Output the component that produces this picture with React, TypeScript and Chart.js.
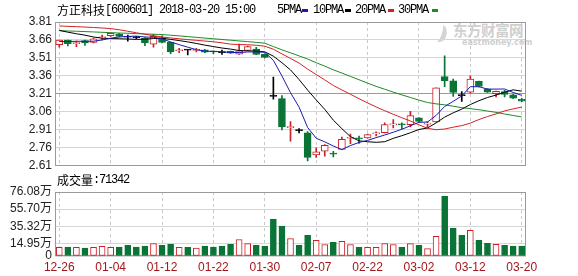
import React, { useEffect, useRef } from 'react';
import { Chart, registerables } from 'chart.js';

Chart.register(...registerables);

// ---------- data ----------
const stockName = '方正科技';
const stockCode = '[600601]';
const stampText = '2018-03-20 15:00';
const volumeCaption = '成交量';
const volumeNow = ':71342';

const dates = ['12-26','12-27','12-28','12-29','01-02','01-03','01-04','01-05','01-08','01-09','01-10','01-11','01-12','01-15','01-16','01-17','01-18','01-19','01-22','01-23','01-24','01-25','01-26','01-29','01-30','01-31','02-01','02-02','02-05','02-06','02-07','02-08','02-09','02-12','02-13','02-14','02-22','02-23','02-26','02-27','02-28','03-01','03-02','03-05','03-06','03-07','03-08','03-09','03-12','03-13','03-14','03-15','03-16','03-19','03-20'];

const openP = [3.62,3.66,3.63,3.655,3.64,3.678,3.695,3.71,3.683,3.68,3.675,3.625,3.68,3.64,3.57,3.575,3.573,3.578,3.563,3.555,3.565,3.542,3.572,3.585,3.54,3.19,3.17,2.928,2.904,2.885,2.70,2.733,2.712,2.746,2.84,2.84,2.843,2.877,2.886,2.952,2.958,2.954,3.01,2.958,2.976,3.355,3.32,3.195,3.225,3.314,3.25,3.211,3.23,3.203,3.165];
const highP = [3.66,3.66,3.65,3.66,3.675,3.70,3.72,3.715,3.70,3.69,3.68,3.707,3.695,3.64,3.59,3.578,3.59,3.58,3.57,3.575,3.567,3.625,3.61,3.598,3.545,3.35,3.195,2.98,2.92,2.895,2.76,2.787,2.73,2.85,2.875,2.857,2.875,2.893,2.968,2.995,2.968,3.065,3.012,2.98,3.26,3.527,3.333,3.23,3.36,3.318,3.255,3.234,3.24,3.206,3.172];
const lowP = [3.60,3.61,3.605,3.615,3.635,3.66,3.69,3.685,3.65,3.67,3.613,3.60,3.635,3.545,3.555,3.535,3.56,3.555,3.545,3.54,3.547,3.54,3.57,3.538,3.51,3.165,2.91,2.815,2.885,2.65,2.68,2.69,2.685,2.745,2.795,2.796,2.84,2.86,2.885,2.926,2.92,2.935,2.978,2.935,2.975,3.27,3.19,3.148,3.217,3.268,3.222,3.184,3.184,3.17,3.145];
const closeP = [3.66,3.63,3.635,3.635,3.67,3.682,3.715,3.69,3.683,3.68,3.635,3.69,3.64,3.56,3.575,3.575,3.578,3.558,3.56,3.555,3.55,3.57,3.605,3.54,3.515,3.19,2.935,2.934,2.904,2.68,2.727,2.78,2.708,2.83,2.845,2.835,2.87,2.881,2.954,2.956,2.952,3.029,2.98,2.962,3.26,3.32,3.223,3.195,3.333,3.272,3.225,3.231,3.205,3.175,3.15];

const ma5 = [3.647,3.647,3.649,3.649,3.65,3.66,3.675,3.685,3.69,3.692,3.685,3.682,3.67,3.644,3.621,3.60,3.579,3.567,3.565,3.561,3.556,3.555,3.56,3.561,3.557,3.49,3.36,3.22,3.10,2.93,2.84,2.81,2.775,2.746,2.779,2.805,2.822,2.845,2.867,2.89,2.915,2.944,2.973,2.975,3.03,3.105,3.148,3.193,3.27,3.27,3.25,3.25,3.251,3.222,3.198];
const ma10 = [3.74,3.725,3.712,3.70,3.685,3.675,3.672,3.67,3.668,3.665,3.666,3.672,3.674,3.665,3.655,3.644,3.631,3.617,3.605,3.593,3.584,3.572,3.569,3.567,3.561,3.525,3.47,3.41,3.33,3.242,3.16,3.081,2.991,2.92,2.853,2.818,2.811,2.806,2.811,2.839,2.861,2.886,2.913,2.926,2.968,3.016,3.052,3.083,3.121,3.153,3.18,3.20,3.223,3.244,3.233];
const ma20 = [3.777,3.774,3.771,3.768,3.764,3.76,3.755,3.745,3.733,3.72,3.708,3.696,3.685,3.677,3.67,3.663,3.657,3.651,3.645,3.636,3.625,3.622,3.62,3.616,3.608,3.583,3.544,3.506,3.467,3.417,3.372,3.327,3.28,3.243,3.207,3.17,3.135,3.101,3.07,3.04,3.011,2.984,2.952,2.923,2.911,2.917,2.932,2.945,2.966,2.996,3.021,3.043,3.068,3.085,3.10];
const ma30 = [3.738,3.735,3.733,3.73,3.727,3.724,3.721,3.718,3.716,3.713,3.71,3.708,3.705,3.70,3.694,3.688,3.682,3.676,3.67,3.664,3.658,3.652,3.646,3.64,3.633,3.605,3.578,3.553,3.527,3.501,3.47,3.442,3.411,3.384,3.356,3.328,3.30,3.273,3.249,3.225,3.202,3.18,3.158,3.138,3.127,3.119,3.107,3.095,3.087,3.078,3.067,3.056,3.042,3.03,3.018];

// volume in 万
const volume = [10.3,10.7,10.3,9.5,10.3,11.5,10.3,10.7,12.7,10.7,11.9,14.7,12.7,13.9,10.3,10.3,9.5,11.9,10.7,11.9,13.9,19.5,14.7,12.7,11.9,44.0,35.7,20.6,12.7,24.6,18.7,13.5,16.3,17.5,13.5,10.3,10.3,10.3,14.7,13.5,10.3,14.7,12.7,8.8,23.4,71.0,33.3,24.6,30.4,18.7,15.1,13.9,12.7,11.9,11.9];

const priceTicks = [3.81,3.66,3.51,3.36,3.21,3.06,2.91,2.76,2.61];
const volTicks = [76.08,55.70,35.32,14.95,0];
const volTickLabels = ['76.08万','55.70万','35.32万','14.95万','0'];

const maNames = ['5PMA','10PMA','20PMA','30PMA'];
const maColors = ['#1a1ab4','#000000','#d42222','#1e8a2a'];

// ---------- styles ----------
const RED = '#cc1f26';
const GREEN = '#0a7436';
const DOJI = '#000000';
const GRID = '#d6d6d6';
const DASH = '#c8c8c8';
const FRAME = '#9a9a9a';
const AXIS_FONT = { family: "'Liberation Sans', 'Noto Sans CJK SC', sans-serif", size: 12 };
const MONO = "'Liberation Mono', 'DejaVu Sans Mono', monospace";
const CJK = "'Noto Sans CJK SC', sans-serif";

const candleColor = (i: number) =>
  closeP[i] > openP[i] ? RED : closeP[i] < openP[i] ? GREEN : DOJI;

const framePlugin = {
  id: 'frame',
  beforeDatasetsDraw(chart: any) {
    const { ctx, chartArea } = chart;
    const l = Math.round(chartArea.left) + 0.5;
    const t = Math.round(chartArea.top) + 0.5;
    const r = Math.round(chartArea.right) - 0.5;
    const b = Math.round(chartArea.bottom) - 0.5;
    ctx.save();
    ctx.strokeStyle = FRAME;
    ctx.lineWidth = 1;
    ctx.strokeRect(l, t, r - l, b - t);
    ctx.restore();
  },
};

export default function App() {
  const priceRef = useRef<HTMLCanvasElement>(null);
  const volRef = useRef<HTMLCanvasElement>(null);

  useEffect(() => {
    const colors = dates.map((_, i) => candleColor(i));
    const xGridColor = (ctx: any) => (ctx.index % 6 === 0 ? DASH : 'rgba(0,0,0,0)');

    const maSets = [ma5, ma10, ma20, ma30].map((d, k) => ({
      type: 'line' as const,
      label: maNames[k],
      data: d,
      borderColor: maColors[k],
      borderWidth: 1,
      pointRadius: 0,
      tension: 0,
      order: 0,
    }));

    const pc = new Chart(priceRef.current as HTMLCanvasElement, {
      type: 'bar',
      data: {
        labels: dates,
        datasets: [
          ...maSets,
          {
            type: 'bar',
            label: 'body',
            data: dates.map((_, i) => [openP[i], closeP[i]]) as any,
            backgroundColor: dates.map((_, i) => (closeP[i] > openP[i] ? '#ffffff' : colors[i])),
            borderColor: colors,
            borderWidth: 1,
            borderSkipped: false,
            barThickness: 7,
            minBarLength: 1,
            grouped: false,
            order: 1,
          } as any,
          {
            type: 'bar',
            label: 'wick',
            data: dates.map((_, i) => [lowP[i], highP[i]]) as any,
            backgroundColor: colors,
            borderWidth: 0,
            barThickness: 1,
            grouped: false,
            order: 2,
          } as any,
        ],
      },
      options: {
        responsive: false,
        animation: false,
        devicePixelRatio: 1,
        events: [],
        layout: { padding: { left: 0, right: 52, top: 22, bottom: 9.5 } },
        plugins: { legend: { display: false }, tooltip: { enabled: false }, title: { display: false } },
        scales: {
          x: {
            type: 'category',
            offset: true,
            grid: { offset: false, color: xGridColor, drawTicks: false, lineWidth: 1 },
            border: { display: false, dash: [3, 3] },
            ticks: { display: false, autoSkip: false },
            afterFit: (s: any) => { s.height = 0; },
          } as any,
          y: {
            min: 2.61,
            max: 3.81,
            afterBuildTicks: (s: any) => { s.ticks = priceTicks.map((v) => ({ value: v })); },
            ticks: {
              autoSkip: false,
              padding: 3,
              color: '#222',
              font: AXIS_FONT,
              callback: (v: any) => Number(v).toFixed(2),
            },
            grid: {
              drawTicks: false,
              color: (ctx: any) => (ctx.tick && Math.abs(ctx.tick.value - 3.21) < 1e-6 ? '#9a9a9a' : GRID),
            },
            border: { display: false },
            afterFit: (s: any) => { s.width = 55; },
          } as any,
        },
      },
      plugins: [framePlugin],
    });

    const vc = new Chart(volRef.current as HTMLCanvasElement, {
      type: 'bar',
      data: {
        labels: dates,
        datasets: [
          {
            label: 'volume',
            data: volume,
            backgroundColor: dates.map((_, i) => (closeP[i] > openP[i] ? '#ffffff' : GREEN)),
            borderColor: dates.map((_, i) => (closeP[i] > openP[i] ? RED : GREEN)),
            borderWidth: 1,
            borderSkipped: false,
            barThickness: 6,
            grouped: false,
          } as any,
        ],
      },
      options: {
        responsive: false,
        animation: false,
        devicePixelRatio: 1,
        events: [],
        layout: { padding: { left: 0, right: 52, top: 12, bottom: 0 } },
        plugins: { legend: { display: false }, tooltip: { enabled: false } },
        scales: {
          x: {
            type: 'category',
            offset: true,
            grid: { offset: false, color: xGridColor, drawTicks: false, lineWidth: 1 },
            border: { display: false, dash: [3, 3] },
            ticks: {
              autoSkip: false,
              maxRotation: 0,
              minRotation: 0,
              padding: 4,
              color: '#a3161c',
              font: AXIS_FONT,
              callback: (_v: any, i: number) => (i % 6 === 0 ? dates[i] : ''),
            },
            afterFit: (s: any) => { s.height = 20; },
          } as any,
          y: {
            min: 0,
            max: 76.08,
            afterBuildTicks: (s: any) => { s.ticks = volTicks.map((v) => ({ value: v })); },
            ticks: {
              autoSkip: false,
              padding: 3,
              color: '#222',
              font: AXIS_FONT,
              callback: (_v: any, i: number) => volTickLabels[i],
            },
            grid: { drawTicks: false, color: GRID },
            border: { display: false },
            afterFit: (s: any) => { s.width = 55; },
          } as any,
        },
      },
      plugins: [framePlugin],
    });

    return () => {
      pc.destroy();
      vc.destroy();
    };
  }, []);

  const mono: React.CSSProperties = {
    position: 'absolute',
    fontFamily: MONO,
    fontSize: 12,
    letterSpacing: '-1.2px',
    lineHeight: '20px',
    color: '#000',
    whiteSpace: 'pre',
  };
  const cjk: React.CSSProperties = {
    position: 'absolute',
    fontFamily: CJK,
    fontSize: 12,
    lineHeight: '20px',
    color: '#000',
    whiteSpace: 'pre',
  };
  const legendX = [277, 313, 355, 398];
  const swatchX = [302, 345, 388, 432];

  return (
    <div style={{ position: 'absolute', left: 0, top: 0, width: 578, height: 276, background: '#fff', overflow: 'hidden' }}>
      {/* watermark */}
      <div style={{ position: 'absolute', left: 453, top: 21, width: 80, fontFamily: CJK, fontWeight: 700, fontSize: 14.5, lineHeight: '18px', color: '#cfcfcf', letterSpacing: '-0.5px', whiteSpace: 'pre' }}>东方财富网</div>
      <div style={{ position: 'absolute', left: 462, top: 38, fontFamily: "'DejaVu Sans', sans-serif", fontWeight: 700, fontSize: 8, lineHeight: '9px', color: '#cfcfcf', whiteSpace: 'pre' }}>eastmoney.com</div>
      <div style={{ position: 'absolute', left: 432, top: 24, width: 10, height: 18, borderRadius: '50% 50% 50% 50% / 60% 60% 40% 40%', borderRight: '5px solid #d4d4d4', transform: 'rotate(20deg)' }} />

      <canvas ref={priceRef} width={578} height={176} style={{ position: 'absolute', left: 0, top: 0, width: 578, height: 176 }} />
      <canvas ref={volRef} width={578} height={96} style={{ position: 'absolute', left: 0, top: 180, width: 578, height: 96 }} />

      {/* title */}
      <span style={{ ...cjk, left: 57, top: 0 }}>{stockName}</span>
      <span style={{ ...mono, left: 105, top: 0 }}>{stockCode + ' ' + stampText}</span>
      {maNames.map((n, k) => (
        <React.Fragment key={n}>
          <span style={{ ...mono, left: legendX[k], top: 0 }}>{n}</span>
          <div style={{ position: 'absolute', left: swatchX[k], top: 9, width: 6, height: 3, background: maColors[k] }} />
        </React.Fragment>
      ))}

      {/* volume caption */}
      <span style={{ ...cjk, left: 57, top: 170 }}>{volumeCaption}</span>
      <span style={{ ...mono, left: 93, top: 170 }}>{volumeNow}</span>
    </div>
  );
}
